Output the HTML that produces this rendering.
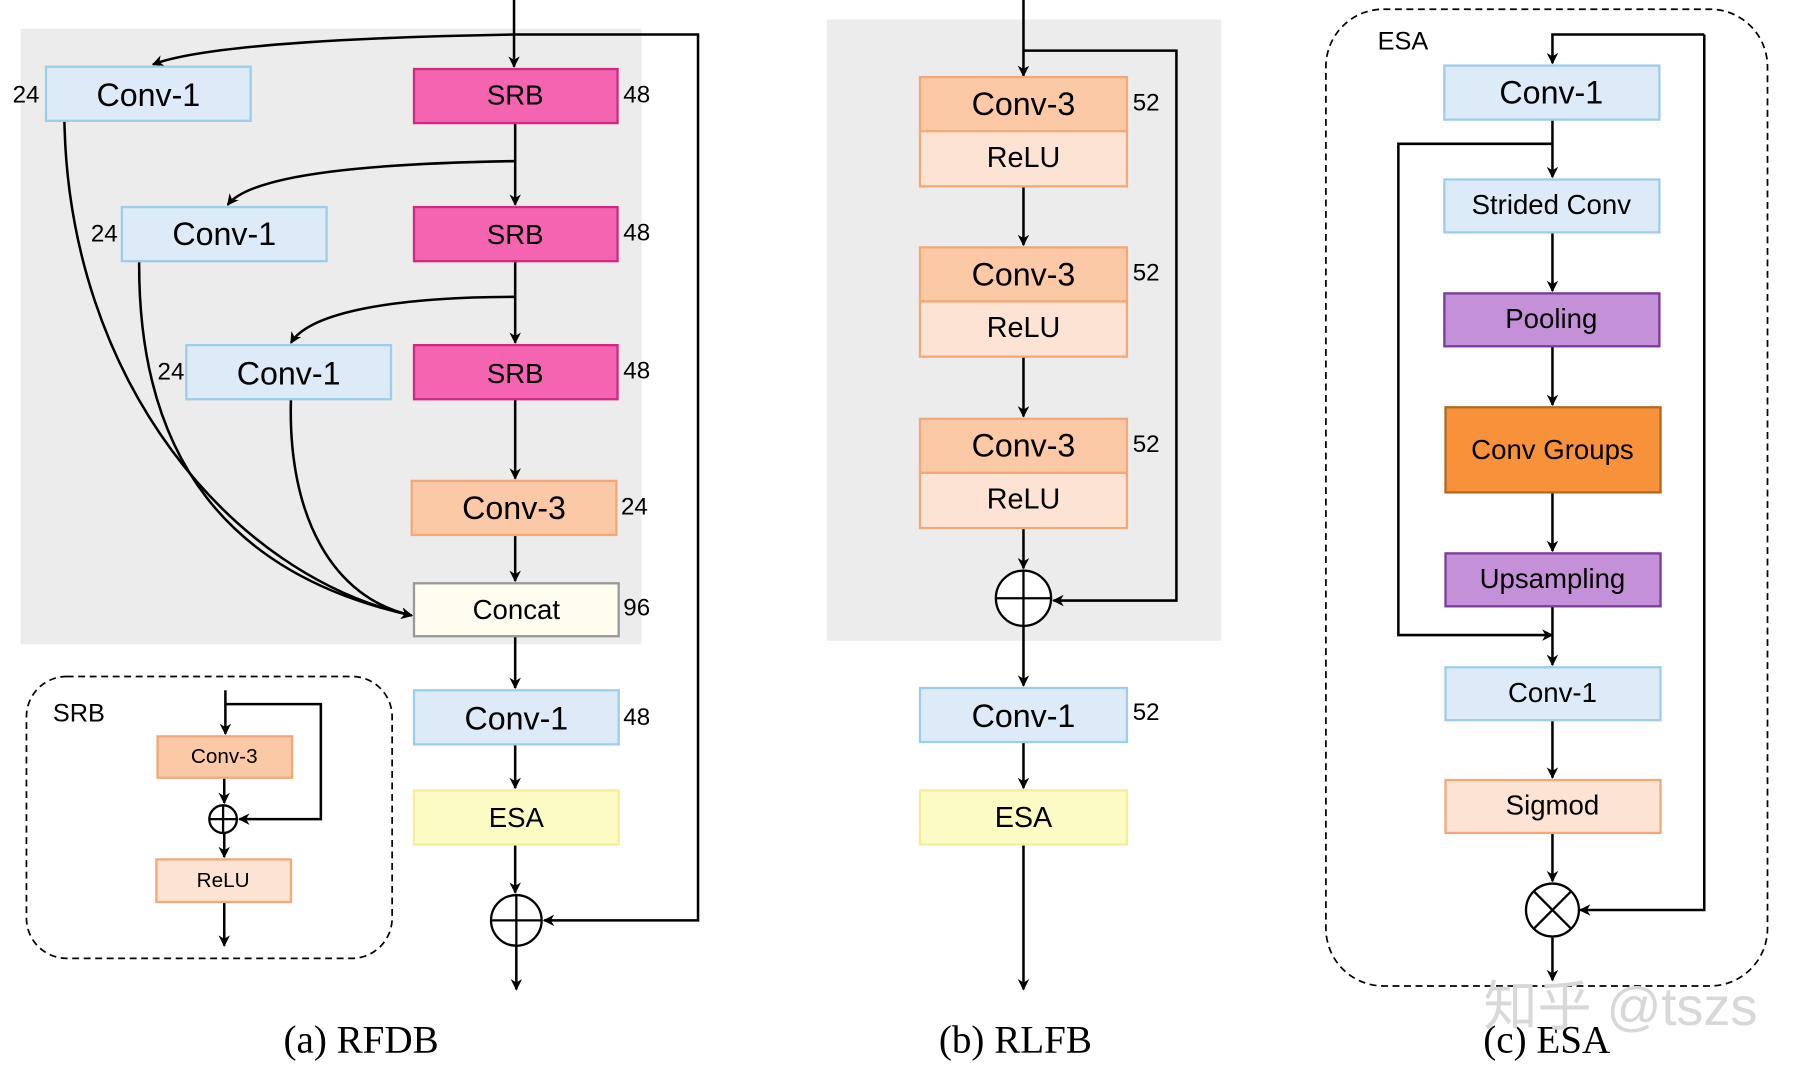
<!DOCTYPE html>
<html><head><meta charset="utf-8">
<style>
html,body{margin:0;padding:0;background:#fff;}
svg{display:block;}
text{font-family:"Liberation Sans",sans-serif;}
</style></head>
<body>
<svg width="1802" height="1078" viewBox="0 0 1567 937" preserveAspectRatio="none" xmlns="http://www.w3.org/2000/svg">
<defs>
<marker id="a" markerWidth="10" markerHeight="10" refX="9" refY="5" orient="auto" markerUnits="userSpaceOnUse"><path d="M0,0 L10,5 L0,10 L3,5 Z" fill="#000"/></marker>
</defs>
<rect x="18" y="25" width="540" height="535" fill="#ececec"/>
<rect x="719" y="17" width="343" height="540" fill="#ececec"/>

<g fill="none" stroke="#000" stroke-width="2.2">
<path d="M447,0 V58" marker-end="url(#a)"/>
<path d="M447,30 H607 V800 H473" marker-end="url(#a)"/>
<path d="M447,30 C330,32 180,38 133,56" marker-end="url(#a)"/>
<path d="M448,107 V178" marker-end="url(#a)"/>
<path d="M448,140 C330,142 220,150 198,178" marker-end="url(#a)"/>
<path d="M448,227 V298" marker-end="url(#a)"/>
<path d="M448,258 C350,258 270,270 253,298" marker-end="url(#a)"/>
<path d="M448,347 V416" marker-end="url(#a)"/>
<path d="M448,465 V505" marker-end="url(#a)"/>
<path d="M448,553 V598" marker-end="url(#a)"/>
<path d="M448,647 V685" marker-end="url(#a)"/>
<path d="M448,734 V776" marker-end="url(#a)"/>
<path d="M449,822 V860" marker-end="url(#a)"/>
<path d="M56,105 C60,330 200,500 358,535" marker-end="url(#a)"/>
<path d="M121,227 C120,400 200,500 358,535" marker-end="url(#a)"/>
<path d="M253,347 C250,450 290,520 358,535" marker-end="url(#a)"/>
<path d="M196,600 V638" marker-end="url(#a)"/>
<path d="M196,612 H279 V712 H208" marker-end="url(#a)"/>
<path d="M195,676 V698" marker-end="url(#a)"/>
<path d="M195,724 V745" marker-end="url(#a)"/>
<path d="M195,784 V822" marker-end="url(#a)"/>
<path d="M890,0 V66" marker-end="url(#a)"/>
<path d="M890,44 H1023 V522 H916" marker-end="url(#a)"/>
<path d="M890,162 V213" marker-end="url(#a)"/>
<path d="M890,310 V362" marker-end="url(#a)"/>
<path d="M890,459 V494" marker-end="url(#a)"/>
<path d="M890,544 V596" marker-end="url(#a)"/>
<path d="M890,645 V685" marker-end="url(#a)"/>
<path d="M890,734 V860" marker-end="url(#a)"/>
<path d="M1482,30 H1350 V55" marker-end="url(#a)"/>
<path d="M1482,30 V791 H1374" marker-end="url(#a)"/>
<path d="M1350,104 V154" marker-end="url(#a)"/>
<path d="M1350,125 H1216 V552 H1350" marker-end="url(#a)"/>
<path d="M1350,202 V253" marker-end="url(#a)"/>
<path d="M1350,301 V352" marker-end="url(#a)"/>
<path d="M1350,428 V479" marker-end="url(#a)"/>
<path d="M1350,527 V578" marker-end="url(#a)"/>
<path d="M1350,626 V676" marker-end="url(#a)"/>
<path d="M1350,724 V766" marker-end="url(#a)"/>
<path d="M1350,815 V852" marker-end="url(#a)"/>
</g>

<rect x="23" y="588" width="318" height="245" rx="35" fill="none" stroke="#000" stroke-width="1.5" stroke-dasharray="6,4"/>
<rect x="1153" y="8" width="384" height="849" rx="50" fill="none" stroke="#000" stroke-width="1.5" stroke-dasharray="6,4"/>

<g stroke-width="2">
<rect x="40" y="58" width="178" height="47" fill="#dcebf7" stroke="#9fcde9"/>
<rect x="106" y="180" width="178" height="47" fill="#dcebf7" stroke="#9fcde9"/>
<rect x="162" y="300" width="178" height="47" fill="#dcebf7" stroke="#9fcde9"/>
<rect x="360" y="60" width="177" height="47" fill="#f564b0" stroke="#d02a80"/>
<rect x="360" y="180" width="177" height="47" fill="#f564b0" stroke="#d02a80"/>
<rect x="360" y="300" width="177" height="47" fill="#f564b0" stroke="#d02a80"/>
<rect x="358" y="418" width="178" height="47" fill="#fcc9a6" stroke="#f2a878"/>
<rect x="360" y="507" width="178" height="46" fill="#fefdf0" stroke="#999"/>
<rect x="360" y="600" width="178" height="47" fill="#dcebf7" stroke="#9fcde9"/>
<rect x="360" y="687" width="178" height="47" fill="#fdfbc4" stroke="#f3ee9a"/>
<rect x="137" y="640" width="117" height="36" fill="#fcc9a6" stroke="#f2a878"/>
<rect x="136" y="747" width="117" height="37" fill="#fde3d3" stroke="#f2a878"/>
<rect x="800" y="67" width="180" height="47" fill="#fcc9a6" stroke="#f2a878"/>
<rect x="800" y="114" width="180" height="48" fill="#fde3d3" stroke="#f2a878"/>
<rect x="800" y="215" width="180" height="47" fill="#fcc9a6" stroke="#f2a878"/>
<rect x="800" y="262" width="180" height="48" fill="#fde3d3" stroke="#f2a878"/>
<rect x="800" y="364" width="180" height="47" fill="#fcc9a6" stroke="#f2a878"/>
<rect x="800" y="411" width="180" height="48" fill="#fde3d3" stroke="#f2a878"/>
<rect x="800" y="598" width="180" height="47" fill="#dcebf7" stroke="#9fcde9"/>
<rect x="800" y="687" width="180" height="47" fill="#fdfbc4" stroke="#f3ee9a"/>
<rect x="1256" y="57" width="187" height="47" fill="#dcebf7" stroke="#9fcde9"/>
<rect x="1256" y="156" width="187" height="46" fill="#dcebf7" stroke="#9fcde9"/>
<rect x="1256" y="255" width="187" height="46" fill="#c490d8" stroke="#7a3c9a"/>
<rect x="1257" y="354" width="187" height="74" fill="#f7923a" stroke="#b06a20"/>
<rect x="1257" y="481" width="187" height="46" fill="#c490d8" stroke="#7a3c9a"/>
<rect x="1257" y="580" width="187" height="46" fill="#dcebf7" stroke="#9fcde9"/>
<rect x="1257" y="678" width="187" height="46" fill="#fde3d3" stroke="#f2a878"/>
</g>

<g fill="#fff" stroke="#000" stroke-width="2">
<circle cx="449" cy="800" r="22"/>
<circle cx="194" cy="712" r="12"/>
<circle cx="890" cy="520" r="24"/>
<circle cx="1350" cy="791" r="23"/>
</g>
<g stroke="#000" stroke-width="2">
<path d="M427,800 H471 M449,778 V822"/>
<path d="M182,712 H206 M194,700 V724"/>
<path d="M866,520 H914 M890,496 V544"/>
<path d="M1334,775 L1366,807 M1366,775 L1334,807"/>
</g>

<g font-size="28" text-anchor="middle" fill="#000">
<text x="129" y="92">Conv-1</text>
<text x="195" y="213">Conv-1</text>
<text x="251" y="334">Conv-1</text>
<text x="448" y="91" font-size="24">SRB</text>
<text x="448" y="212" font-size="24">SRB</text>
<text x="448" y="333" font-size="24">SRB</text>
<text x="447" y="451">Conv-3</text>
<text x="449" y="538" font-size="24">Concat</text>
<text x="449" y="634">Conv-1</text>
<text x="449" y="719" font-size="24">ESA</text>
<text x="195" y="663" font-size="18">Conv-3</text>
<text x="194" y="771" font-size="18">ReLU</text>
<text x="890" y="100">Conv-3</text>
<text x="890" y="145" font-size="25">ReLU</text>
<text x="890" y="248">Conv-3</text>
<text x="890" y="293" font-size="25">ReLU</text>
<text x="890" y="397">Conv-3</text>
<text x="890" y="442" font-size="25">ReLU</text>
<text x="890" y="632">Conv-1</text>
<text x="890" y="719" font-size="25">ESA</text>
<text x="1349" y="90">Conv-1</text>
<text x="1349" y="186" font-size="24">Strided Conv</text>
<text x="1349" y="285" font-size="24">Pooling</text>
<text x="1350" y="399" font-size="24">Conv Groups</text>
<text x="1350" y="511" font-size="24">Upsampling</text>
<text x="1350" y="610" font-size="24">Conv-1</text>
<text x="1350" y="708" font-size="24">Sigmod</text>
</g>
<g font-size="21" fill="#000">
<text x="11" y="89">24</text>
<text x="79" y="210">24</text>
<text x="137" y="330">24</text>
<text x="542" y="89">48</text>
<text x="542" y="209">48</text>
<text x="542" y="329">48</text>
<text x="540" y="447">24</text>
<text x="542" y="535">96</text>
<text x="542" y="630">48</text>
<text x="985" y="96">52</text>
<text x="985" y="244">52</text>
<text x="985" y="393">52</text>
<text x="985" y="626">52</text>
<text x="46" y="627" font-size="22">SRB</text>
<text x="1198" y="43" font-size="22">ESA</text>
</g>
<g font-size="34" text-anchor="middle" fill="#000">
<text x="314" y="915" style="font-family:'Liberation Serif',serif">(a) RFDB</text>
<text x="883" y="915" style="font-family:'Liberation Serif',serif">(b) RLFB</text>
<text x="1345" y="915" style="font-family:'Liberation Serif',serif">(c) ESA</text>
</g>
<text x="1290" y="891" font-size="47" fill="#d8d8d8" style="font-family:'Liberation Sans','Noto Sans CJK SC',sans-serif">知乎 @tszs</text>
</svg>
</body></html>
